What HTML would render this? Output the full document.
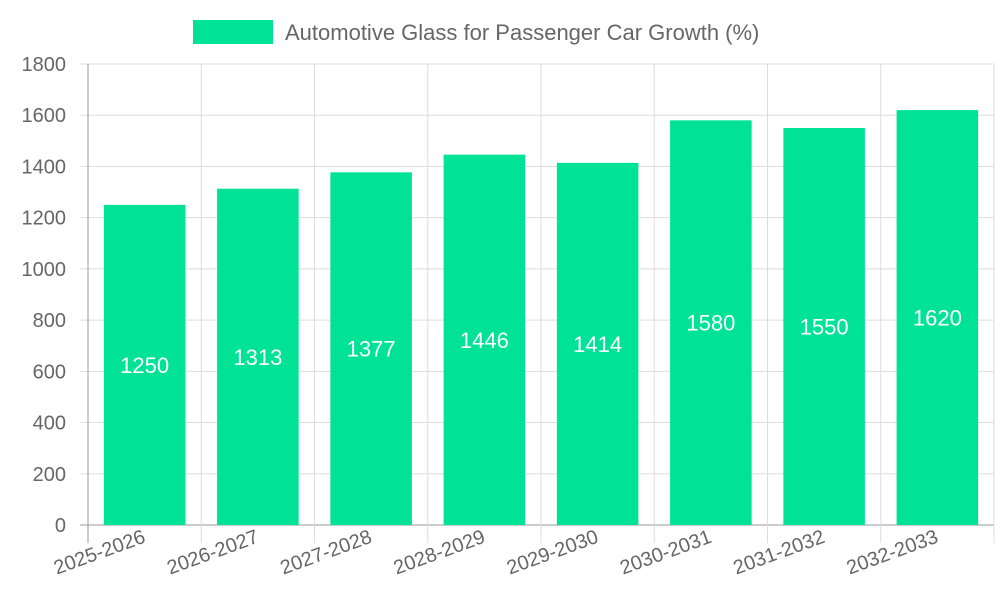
<!DOCTYPE html>
<html><head><meta charset="utf-8"><style>
body{margin:0;background:#fff;}
svg text{font-family:"Liberation Sans",sans-serif;}
</style></head><body>
<svg id="chart" width="1000" height="600" xmlns="http://www.w3.org/2000/svg">
<g>
<rect x="193" y="20" width="80" height="24" fill="#00e396"/>
<text x="285" y="40" font-size="22" fill="#666">Automotive Glass for Passenger Car Growth (%)</text>
</g>
<g id="grid"></g>
<g id="bars"></g>
<g id="axes"></g>
</svg>
<script>
const categories=["2025-2026","2026-2027","2027-2028","2028-2029","2029-2030","2030-2031","2031-2032","2032-2033"];
const values=[1250,1313,1377,1446,1414,1580,1550,1620];
const yTicks=[0,200,400,600,800,1000,1200,1400,1600,1800];
const NS="http://www.w3.org/2000/svg";
const L=88,R=994,T=64,B=525,yMax=1800;
const band=(R-L)/categories.length;
const y=v=>B-(v/yMax)*(B-T);
const xc=i=>L+band*(i+0.5);
function mk(tag,attrs,parent,txt){const e=document.createElementNS(NS,tag);for(const k in attrs)e.setAttribute(k,attrs[k]);if(txt!==undefined)e.textContent=txt;parent.appendChild(e);return e;}
const grid=document.getElementById('grid'),bars=document.getElementById('bars'),axes=document.getElementById('axes');
yTicks.forEach(t=>{
 const l=mk('line',{x1:L-8,x2:R,y1:y(t),y2:y(t),stroke:t===0?'#999':'#ddd','stroke-width':1},grid);
 
 
 const tx=mk('text',{x:66,y:y(t)+7,'text-anchor':'end','font-size':20,fill:'#666'},axes,t);
 
 
});
for(let i=0;i<=categories.length;i++){
 const x=L+band*i;
 const l=mk('line',{x1:x,x2:x,y1:T,y2:B+18,stroke:i===0?'#999':'#ddd','stroke-width':1},grid);
 
 
}
categories.forEach((c,i)=>{
 const bw=band*0.72;
 const r=mk('rect',{x:xc(i)-bw/2,y:y(values[i]),width:bw,height:B-y(values[i]),fill:'#00e396'},bars);
 
 
 const v=mk('text',{x:xc(i),y:(y(values[i])+B)/2+8,'text-anchor':'middle','font-size':22,fill:'#fff'},bars,values[i]);
 
 
 const lx=xc(i)+2,ly=542;
 const t=mk('text',{x:lx,y:ly,'text-anchor':'end','font-size':20,fill:'#666',transform:`rotate(-20 ${lx} ${ly})`},axes,c);
 
 
});
</script>
</body></html>
